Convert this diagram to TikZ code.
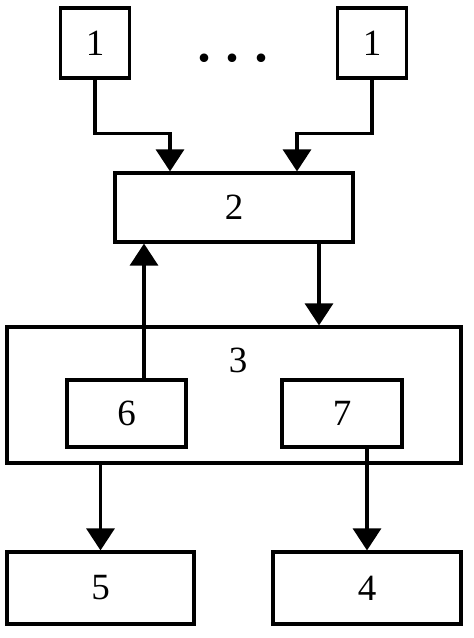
\documentclass[tikz,border=0pt]{standalone}
\usepackage{fontspec}
\setmainfont{Liberation Serif}
\usetikzlibrary{arrows.meta, positioning}

\begin{document}
\begin{tikzpicture}[
  x=1pt, y=-1pt,
  block/.style={rectangle, draw, line width=3.2pt, inner sep=0pt,
                font=\fontsize{37}{40}\selectfont},
  arr/.style={-{Triangle[width=28pt, length=22pt]}, line width=3.2pt},
]
\useasboundingbox (0,0) rectangle (474,638);
\node[block, minimum width=69pt, minimum height=70pt] (src1) at (95,43)  {1};
\node[block, minimum width=69pt, minimum height=70pt] (srcn) at (372,43) {1};
\node[anchor=base, font=\fontsize{72}{72}\selectfont] (dots) at (233,61)
  {.\hspace{11pt}.\hspace{11pt}.};
\node[block, minimum width=238pt, minimum height=69pt] (ctrl) at (234,207.5) {2};
\node[block, minimum width=454pt, minimum height=136pt] (sys) at (234,395) {};
\node[font=\fontsize{37}{40}\selectfont] (syslabel) at (238,360) {3};
\node[block, minimum width=119pt, minimum height=67pt] (unit6) at (126.5,413.5) {6};
\node[block, minimum width=120pt, minimum height=67pt] (unit7) at (342,413.5)   {7};
\node[block, minimum width=187pt, minimum height=72pt] (out5) at (100.5,588) {5};
\node[block, minimum width=188pt, minimum height=72pt] (out4) at (367,588)   {4};
% Eingaenge
\draw[arr] (src1.south) -- ++(0,54) -| ([xshift=-64pt]ctrl.north);
\draw[arr] (srcn.south) -- ++(0,54) -| ([xshift=63pt]ctrl.north);
% Rueckfuehrung und Ausgang
\coordinate (up6) at ([xshift=17.5pt]unit6.north);
\draw[arr] (up6) -- (up6 |- ctrl.south);
\coordinate (down2) at ([xshift=85pt]ctrl.south);
\draw[arr] (down2) -- (down2 |- sys.north);
\draw[arr] (out5.north |- sys.south) -- (out5.north);
\draw[arr] (out4.north |- unit7.south) -- (out4.north);
\end{tikzpicture}
\end{document}
